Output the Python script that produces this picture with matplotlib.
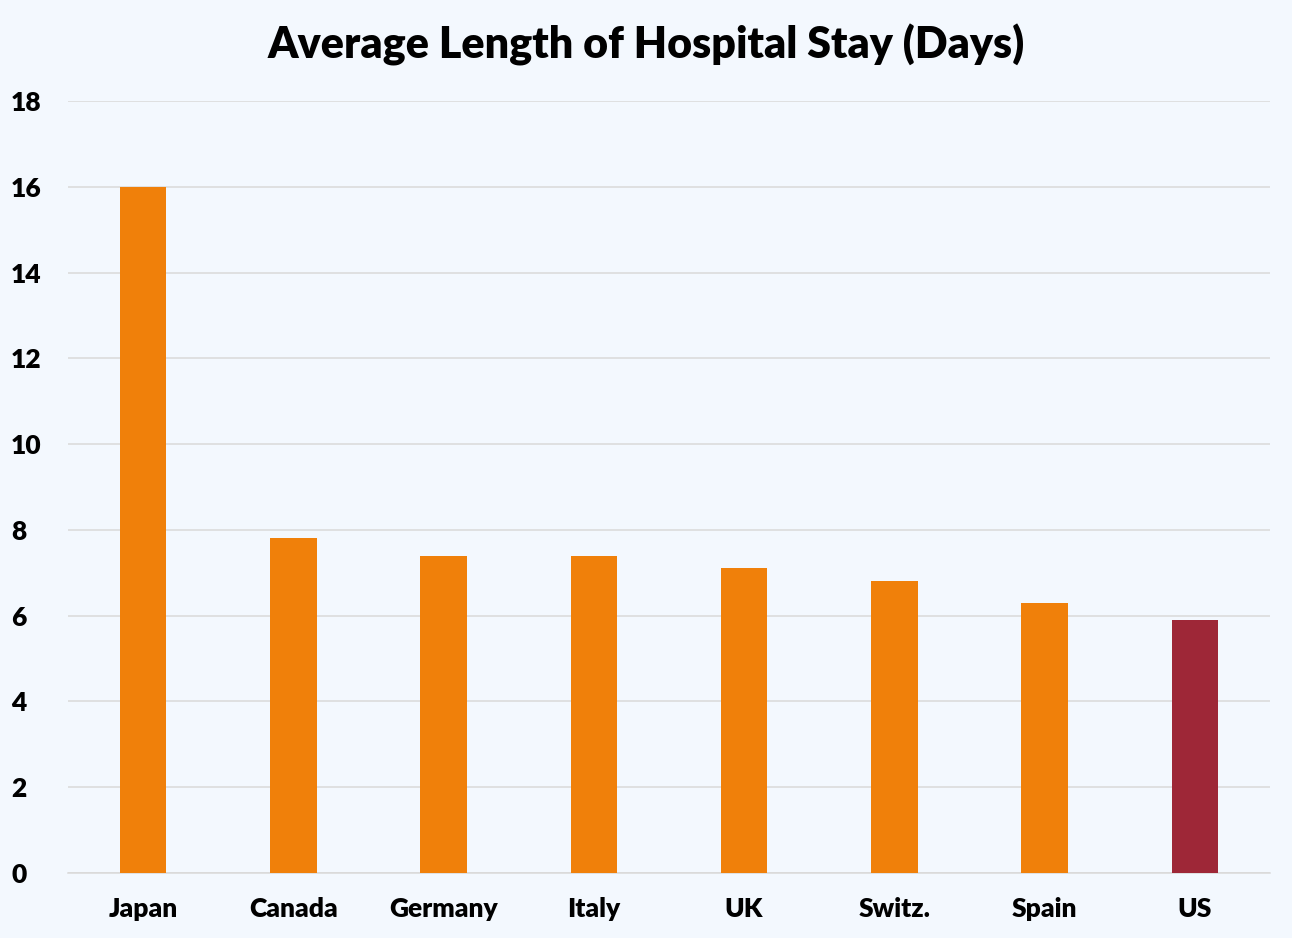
import matplotlib
matplotlib.use("Agg")
import matplotlib.pyplot as plt

countries = ["Japan", "Canada", "Germany", "Italy", "UK", "Switz.", "Spain", "US"]
days = [16.0, 7.8, 7.4, 7.4, 7.1, 6.8, 6.3, 5.9]
colors = ["#F0800A"] * 7 + ["#9E2737"]
yticks = [0, 2, 4, 6, 8, 10, 12, 14, 16, 18]

bg = "#F3F8FE"
plt.rcParams['font.family'] = ['Lato', 'DejaVu Sans']

fig = plt.figure(figsize=(12.92, 9.38), dpi=100, facecolor=bg)
ax = fig.add_axes([68/1292, 65/938, 1202/1292, 772/938], facecolor=bg)

x = range(len(countries))
ax.bar(x, days, width=0.31, color=colors, zorder=3)
ax.set_xlim(-0.5, len(countries) - 0.5)
ax.set_ylim(0, 18)
ax.set_yticks(yticks)
ax.set_yticklabels([str(t) for t in yticks], fontsize=19, fontweight='heavy')
ax.set_xticks(list(x))
ax.set_xticklabels(countries, fontsize=19, fontweight='heavy')
ax.tick_params(axis='both', length=0)
ax.tick_params(axis='x', pad=17)
for lab in ax.get_yticklabels():
    lab.set_horizontalalignment('left')
ax.yaxis.set_tick_params(pad=41)
ax.grid(axis='y', color='#D9D9D9', linewidth=1.1, zorder=0)
for s in ['top', 'right', 'left']:
    ax.spines[s].set_visible(False)
ax.spines['bottom'].set_color('#D9D9D9')
ax.spines['bottom'].set_linewidth(1.1)

fig.text(0.5, 1 - 45/938, "Average Length of Hospital Stay (Days)", ha='center', va='center',
         fontsize=31, fontweight='heavy')

fig.savefig("out.png", dpi=100, facecolor=bg)
